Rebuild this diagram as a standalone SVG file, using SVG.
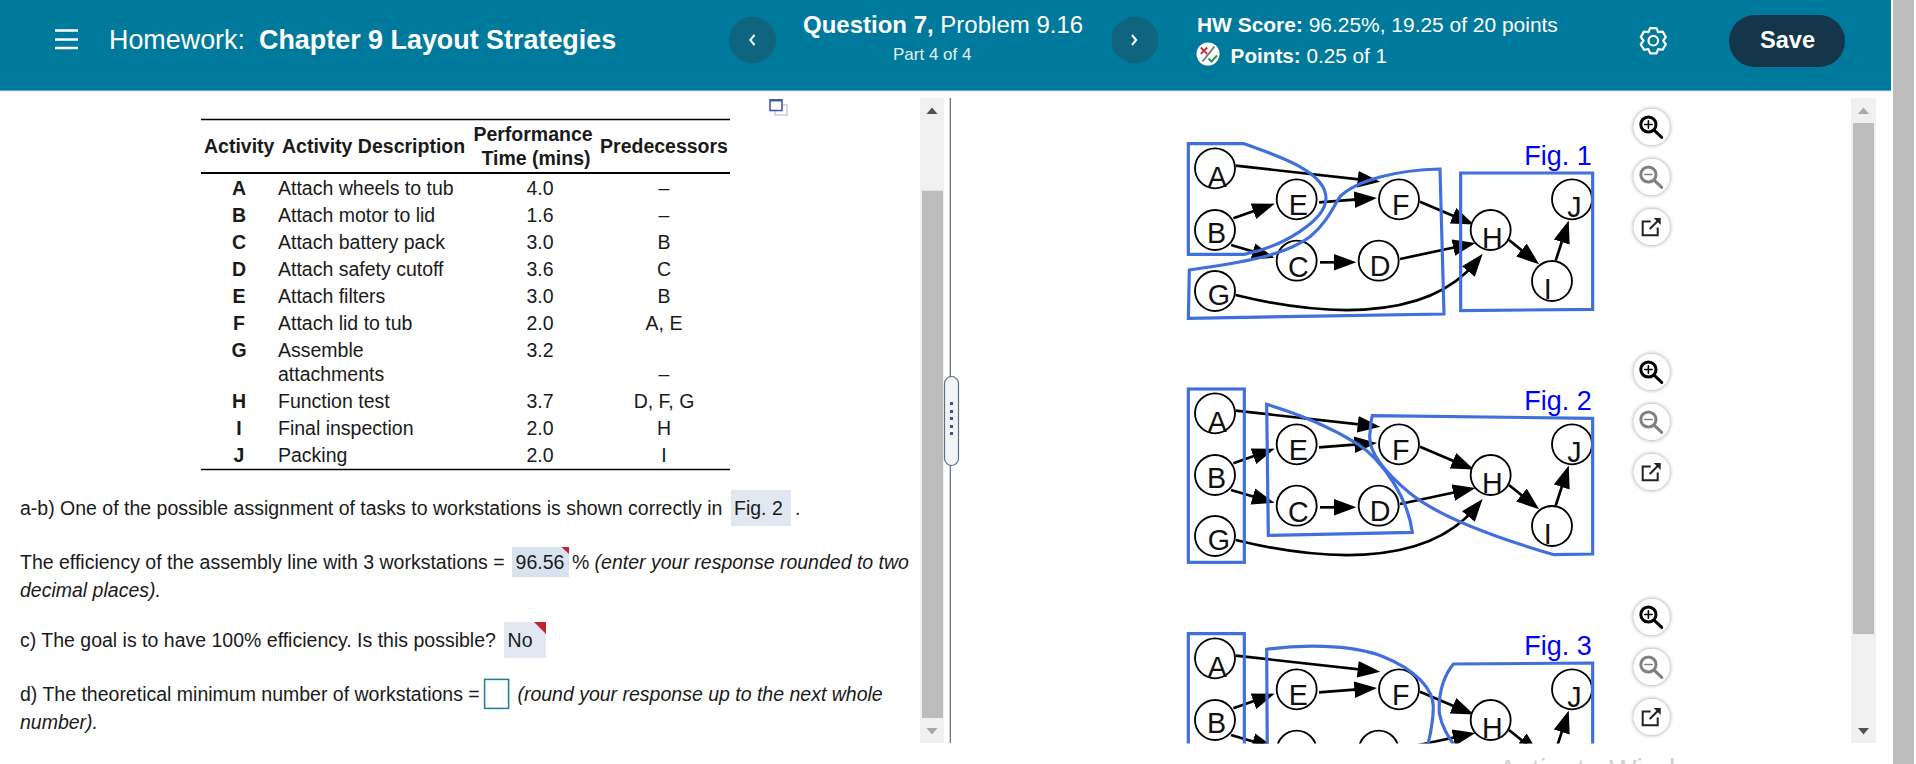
<svg xmlns="http://www.w3.org/2000/svg" xmlns:xlink="http://www.w3.org/1999/xlink" width="1916" height="764" viewBox="0 0 1916 764">
<style>
text{font-family:"Liberation Sans",Arial,sans-serif;fill:#1a1a1a;font-size:19.5px}
.b{font-weight:700}.i{font-style:italic}.m{text-anchor:middle}
.h{fill:#fff}
.e{fill:none;stroke:#000;stroke-width:8;marker-end:url(#ah)}
.n{fill:#fff;stroke:#000;stroke-width:5.5}
.nt{font-size:86px;fill:#111;text-anchor:middle}
.ws{fill:none;stroke:#4070dc;stroke-width:9.5}
.fl{font-size:81px;fill:#0000ff}
.mg{fill:none;stroke:#000;stroke-width:3;stroke-linecap:round}
.mo{fill:none;stroke:#808080;stroke-width:3;stroke-linecap:round}
.ex{fill:none;stroke:#222;stroke-width:2}
</style>
<defs>
<marker id="ah" markerUnits="userSpaceOnUse" markerWidth="70" markerHeight="52" refX="38" refY="26" orient="auto"><path d="M0,1 L68,26 L0,51 Z" fill="#000"/></marker>
<filter id="sh" x="-40%" y="-40%" width="180%" height="180%"><feDropShadow dx="0" dy="0" stdDeviation="2.2" flood-color="#000" flood-opacity=".45"/></filter>
<clipPath id="c3"><rect x="1170" y="590" width="500" height="153.5"/></clipPath>
<g id="btns">
<circle cx="0" cy="0" r="18" fill="#fff" filter="url(#sh)"/>
<circle cx="-3.3" cy="-2.5" r="7.6" class="mg"/><path d="M-7,-2.5H.4M-3.3,-6.2V1.2" class="mg" style="stroke-width:1.6"/><path d="M2.4,3.2L10,10.4" class="mg"/>
<circle cx="0" cy="50" r="18" fill="#fff" filter="url(#sh)"/>
<circle cx="-3.3" cy="47.5" r="7.6" class="mo"/><path d="M-7,47.5H.4" class="mo" style="stroke-width:1.6"/><path d="M2.4,53.2L10,60.4" class="mo"/>
<circle cx="0" cy="100" r="18" fill="#fff" filter="url(#sh)"/>
<path d="M-1,94.5H-9V108.3H6V100.5" class="ex"/><path d="M-2,102L8,92" class="ex"/><path d="M2,91H9V98Z" fill="#222"/>
</g>
</defs>
<rect width="1916" height="764" fill="#fff"/>

<g id="header">
<rect x="0" y="0" width="1891" height="91" fill="#007a9c"/>
<rect x="0" y="90.5" width="1891" height="1" fill="#cfe4ec"/>
<path d="M55,30.5H78M55,39.5H78M55,48H78" stroke="#fff" stroke-width="2.6" fill="none"/>
<text x="109" y="48.5" class="h" style="font-size:26.9px">Homework:</text>
<text x="259" y="48.5" class="h b" style="font-size:26.9px">Chapter 9 Layout Strategies</text>
<circle cx="752.6" cy="40" r="23.5" fill="#0f6480"/>
<path d="M754.5,35L750.3,40L754.5,45" fill="none" stroke="#fff" stroke-width="2"/>
<text x="803" y="33" class="h" style="font-size:24px"><tspan class="b">Question 7,</tspan> Problem 9.16</text>
<text x="893" y="60" class="h" style="font-size:17px;fill:#e4f0f4">Part 4 of 4</text>
<circle cx="1135" cy="40" r="23.5" fill="#0f6480"/>
<path d="M1132,35L1136.2,40L1132,45" fill="none" stroke="#fff" stroke-width="2"/>
<text x="1197" y="32" class="h" style="font-size:20.95px"><tspan class="b">HW Score:</tspan> 96.25%, 19.25 of 20 points</text>
<circle cx="1208" cy="54" r="11.5" fill="#fff"/>
<path d="M1200.8,47.5l6.4,6.4M1207.2,47.5l-6.4,6.4" stroke="#c8322e" stroke-width="2" fill="none"/>
<path d="M1202.5,61.5L1214.5,46.5" stroke="#777" stroke-width="2" fill="none"/>
<path d="M1208.5,58.5l3,3l5.5,-6" stroke="#1f9a3c" stroke-width="2" fill="none"/>
<text x="1230.6" y="62.7" class="h" style="font-size:20.7px"><tspan class="b">Points:</tspan> 0.25 of 1</text>
<g transform="translate(1653.3,40.7)" fill="none" stroke="#fff" stroke-width="2.2" stroke-linejoin="round">
<path d="M-3.15,-12.6L3.15,-12.6L4.9,-8.49L9.35,-9.03L12.5,-3.58L9.8,0L12.5,3.58L9.35,9.03L4.9,8.49L3.15,12.6L-3.15,12.6L-4.9,8.49L-9.35,9.03L-12.5,3.58L-9.8,0L-12.5,-3.58L-9.35,-9.03L-4.9,-8.49Z"/><circle r="4.8"/>
</g>
<rect x="1729" y="15" width="116" height="52" rx="26" fill="#14354a"/>
<text x="1760" y="48" class="h b" style="font-size:23.6px">Save</text>
</g>

<g id="icon-popout" fill="none">
<rect x="775" y="105" width="12" height="10" stroke="#c5cde8" stroke-width="1.5"/>
<rect x="770" y="100" width="12" height="10.5" stroke="#4a5aa8" stroke-width="1.6" fill="#fff"/>
<rect x="769.5" y="99" width="13" height="2.5" fill="#4a5aa8"/>
</g>

<g id="table">
<path d="M201,119.5H730M201,469.5H730" stroke="#000" stroke-width="1.4"/>
<path d="M201,173H730" stroke="#000" stroke-width="2.2"/>
<text x="204" y="152.7" class="b">Activity</text>
<text x="282" y="152.7" class="b">Activity Description</text>
<text x="533" y="141" class="b m">Performance</text>
<text x="536" y="165" class="b m">Time (mins)</text>
<text x="664" y="152.7" class="b m">Predecessors</text>
<g class="b m"><text x="239" y="194.7">A</text><text x="239" y="222">B</text><text x="239" y="249">C</text><text x="239" y="276">D</text><text x="239" y="302.7">E</text><text x="239" y="329.7">F</text><text x="239" y="356.7">G</text><text x="239" y="407.7">H</text><text x="239" y="434.7">I</text><text x="239" y="461.7">J</text></g>
<text x="278" y="194.7">Attach wheels to tub</text><text x="278" y="222">Attach motor to lid</text><text x="278" y="249">Attach battery pack</text><text x="278" y="276">Attach safety cutoff</text><text x="278" y="302.7">Attach filters</text><text x="278" y="329.7">Attach lid to tub</text><text x="278" y="356.7">Assemble</text><text x="278" y="380.7">attachments</text><text x="278" y="407.7">Function test</text><text x="278" y="434.7">Final inspection</text><text x="278" y="461.7">Packing</text>
<g class="m"><text x="540" y="194.7">4.0</text><text x="540" y="222">1.6</text><text x="540" y="249">3.0</text><text x="540" y="276">3.6</text><text x="540" y="302.7">3.0</text><text x="540" y="329.7">2.0</text><text x="540" y="356.7">3.2</text><text x="540" y="407.7">3.7</text><text x="540" y="434.7">2.0</text><text x="540" y="461.7">2.0</text>
<text x="664" y="194.7">–</text><text x="664" y="222">–</text><text x="664" y="249">B</text><text x="664" y="276">C</text><text x="664" y="302.7">B</text><text x="664" y="329.7">A, E</text><text x="664" y="380.7">–</text><text x="664" y="407.7">D, F, G</text><text x="664" y="434.7">H</text><text x="664" y="461.7">I</text></g>
</g>

<g id="questions">
<rect x="731" y="490" width="60" height="36" fill="#e2e8f2"/>
<rect x="512" y="547" width="57" height="30" fill="#d9e3f0"/>
<path d="M561.5,547H569V554Z" fill="#c8202c"/>
<rect x="504" y="622" width="42" height="36" fill="#e2e8f2"/>
<path d="M534,622H546V634Z" fill="#c8202c"/>
<rect x="484.6" y="679.4" width="24" height="29" fill="#fff" stroke="#1f7c9c" stroke-width="1.5"/>
<text x="20" y="515">a-b) One of the possible assignment of tasks to workstations is shown correctly in</text>
<text x="734" y="515">Fig. 2</text><text x="795" y="515">.</text>
<text x="20" y="569">The efficiency of the assembly line with 3 workstations =</text>
<text x="515.6" y="569">96.56</text><text x="572" y="569">%</text>
<text x="594.6" y="569" class="i">(enter your response rounded to two</text>
<text x="20" y="596.7" class="i">decimal places).</text>
<text x="20" y="646.7">c) The goal is to have 100% efficiency. Is this possible?</text>
<text x="507.6" y="646.7">No</text>
<text x="20" y="700.7">d) The theoretical minimum number of workstations =</text>
<text x="517.4" y="700.7" class="i">(round your response up to the next whole</text>
<text x="20" y="728.7" class="i">number).</text>
</g>

<g id="left-scrollbar">
<rect x="920" y="98" width="24" height="645" fill="#f0f0f0"/>
<rect x="922" y="190.7" width="21" height="527.3" fill="#bdbdbd"/>
<path d="M932,107.5L937.5,114H926.5Z" fill="#505050"/>
<path d="M926.5,728H937.5L932,734.5Z" fill="#a8a8a8"/>
</g>
<g id="splitter">
<path d="M950.3,98V743" stroke="#5d6b7e" stroke-width="1.2"/>
<rect x="944.5" y="376.5" width="14" height="89" rx="7" fill="#f2f4f7" stroke="#5d7080" stroke-width="1.2"/>
<g fill="#3d4fa0"><rect x="950" y="402" width="3" height="3"/><rect x="950" y="410" width="3" height="3"/><rect x="950" y="417" width="3" height="3"/><rect x="950" y="425" width="3" height="3"/><rect x="950" y="432" width="3" height="3"/></g>
</g>

<g id="figure-1" transform="translate(1170,100) scale(.33333)">
<text x="1063" y="195" class="fl">Fig. 1</text>
<g id="fig1-connectors">
<path class="e" d="M197,197L601,242"/><path class="e" d="M447,307L591,296"/><path class="e" d="M190,355L286,321"/><path class="e" d="M183,435L285,465"/><path class="e" d="M450,487L529,487"/><path class="e" d="M690,477L887,435"/><path class="e" d="M750,305L884,362"/><path class="e" d="M197,585C420,640 760,680 919,485"/><path class="e" d="M1017,420L1084,474"/><path class="e" d="M1157,482L1187,390"/>
</g>
<g id="fig1-A"><circle class="n" cx="135" cy="205" r="60"/><text class="nt" x="142" y="262">A</text></g>
<g id="fig1-B"><circle class="n" cx="135" cy="390" r="60"/><text class="nt" x="140" y="428">B</text></g>
<g id="fig1-G"><circle class="n" cx="135" cy="573" r="60"/><text class="nt" x="147" y="615">G</text></g>
<g id="fig1-E"><circle class="n" cx="380" cy="298" r="60"/><text class="nt" x="385" y="345">E</text></g>
<g id="fig1-C"><circle class="n" cx="380" cy="482" r="60"/><text class="nt" x="385" y="530">C</text></g>
<g id="fig1-F"><circle class="n" cx="687" cy="298" r="60"/><text class="nt" x="692" y="346">F</text></g>
<g id="fig1-D"><circle class="n" cx="626" cy="482" r="60"/><text class="nt" x="630" y="528">D</text></g>
<g id="fig1-H"><circle class="n" cx="962" cy="390" r="60"/><text class="nt" x="967" y="445">H</text></g>
<g id="fig1-I"><circle class="n" cx="1146" cy="543" r="60"/><text class="nt" x="1133" y="597">I</text></g>
<g id="fig1-J"><circle class="n" cx="1206" cy="298" r="60"/><text class="nt" x="1213" y="352">J</text></g>
<g id="fig1-stations">
<path class="ws" d="M222,131L55,131L55,463L222,463C340,440 468,360 468,295C468,215 330,170 222,131Z"/>
<path class="ws" d="M810,207C680,210 560,240 510,290C490,320 470,370 420,410C340,470 200,490 58,510L55,655L822,642Z"/>
<path class="ws" d="M872,219L1268,219L1268,628L872,632Z"/>
</g>
</g>

<g id="figure-2" transform="translate(1170,345) scale(.33333)">
<text x="1063" y="195" class="fl">Fig. 2</text>
<g id="fig2-connectors">
<path class="e" d="M197,197L601,242"/><path class="e" d="M447,307L591,296"/><path class="e" d="M190,355L286,321"/><path class="e" d="M183,435L285,465"/><path class="e" d="M450,487L529,487"/><path class="e" d="M690,477L887,435"/><path class="e" d="M750,305L884,362"/><path class="e" d="M197,585C420,640 760,680 919,485"/><path class="e" d="M1017,420L1084,474"/><path class="e" d="M1157,482L1187,390"/>
</g>
<g id="fig2-A"><circle class="n" cx="135" cy="205" r="60"/><text class="nt" x="142" y="262">A</text></g>
<g id="fig2-B"><circle class="n" cx="135" cy="390" r="60"/><text class="nt" x="140" y="428">B</text></g>
<g id="fig2-G"><circle class="n" cx="135" cy="573" r="60"/><text class="nt" x="147" y="615">G</text></g>
<g id="fig2-E"><circle class="n" cx="380" cy="298" r="60"/><text class="nt" x="385" y="345">E</text></g>
<g id="fig2-C"><circle class="n" cx="380" cy="482" r="60"/><text class="nt" x="385" y="530">C</text></g>
<g id="fig2-F"><circle class="n" cx="687" cy="298" r="60"/><text class="nt" x="692" y="346">F</text></g>
<g id="fig2-D"><circle class="n" cx="626" cy="482" r="60"/><text class="nt" x="630" y="528">D</text></g>
<g id="fig2-H"><circle class="n" cx="962" cy="390" r="60"/><text class="nt" x="967" y="445">H</text></g>
<g id="fig2-I"><circle class="n" cx="1146" cy="543" r="60"/><text class="nt" x="1133" y="597">I</text></g>
<g id="fig2-J"><circle class="n" cx="1206" cy="298" r="60"/><text class="nt" x="1213" y="352">J</text></g>
<g id="fig2-stations">
<rect class="ws" x="55" y="132" width="168" height="520"/>
<path class="ws" d="M290,178L295,571L727,562C715,465 640,345 560,295C470,240 380,205 290,178Z"/>
<path class="ws" d="M607,212L1268,220L1268,627L1152,629C1000,585 820,525 720,445C660,395 590,325 600,265Q602,230 607,212Z"/>
</g>
</g>

<g clip-path="url(#c3)">
<g id="figure-3" transform="translate(1170,590) scale(.33333)">
<text x="1063" y="195" class="fl">Fig. 3</text>
<g id="fig3-connectors">
<path class="e" d="M197,197L601,242"/><path class="e" d="M447,307L591,296"/><path class="e" d="M190,355L286,321"/><path class="e" d="M183,435L285,465"/><path class="e" d="M690,477L887,435"/><path class="e" d="M750,305L884,362"/><path class="e" d="M197,585C420,640 760,680 919,485"/><path class="e" d="M1017,420L1084,474"/><path class="e" d="M1157,482L1187,390"/>
</g>
<g id="fig3-A"><circle class="n" cx="135" cy="205" r="60"/><text class="nt" x="142" y="262">A</text></g>
<g id="fig3-B"><circle class="n" cx="135" cy="390" r="60"/><text class="nt" x="140" y="428">B</text></g>
<g id="fig3-E"><circle class="n" cx="380" cy="298" r="60"/><text class="nt" x="385" y="345">E</text></g>
<g id="fig3-C"><circle class="n" cx="380" cy="482" r="60"/></g>
<g id="fig3-F"><circle class="n" cx="687" cy="298" r="60"/><text class="nt" x="692" y="346">F</text></g>
<g id="fig3-D"><circle class="n" cx="626" cy="482" r="60"/></g>
<g id="fig3-H"><circle class="n" cx="962" cy="390" r="60"/><text class="nt" x="967" y="445">H</text></g>
<g id="fig3-J"><circle class="n" cx="1206" cy="298" r="60"/><text class="nt" x="1213" y="352">J</text></g>
<g id="fig3-stations">
<path class="ws" d="M55,500L55,131L223,131L223,500"/>
<path class="ws" d="M292,500L290,178C380,165 540,160 640,200C740,240 790,300 790,350C790,400 780,440 770,480"/>
<path class="ws" d="M1268,500L1268,219L850,222C820,260 805,310 808,370C815,410 835,440 855,470"/>
</g>
</g>
</g>

<g id="zoom-buttons">
<use xlink:href="#btns" href="#btns" x="1651.7" y="127"/>
<use xlink:href="#btns" href="#btns" x="1651.7" y="372"/>
<use xlink:href="#btns" href="#btns" x="1651.7" y="617"/>
</g>

<g id="right-scrollbar">
<rect x="1851" y="98" width="25" height="645" fill="#f0f0f0"/>
<rect x="1853" y="123" width="21" height="511" fill="#bdbdbd"/>
<path d="M1863.5,107.5L1869,114H1858Z" fill="#a8a8a8"/>
<path d="M1858,728H1869L1863.5,734.5Z" fill="#505050"/>
</g>
<rect id="page-scrollbar" x="1893" y="0" width="21" height="764" fill="#bdbdbd"/>
<text x="1498" y="780" style="font-size:29px;fill:#d0d0d0">Activate Windows</text>
</svg>
